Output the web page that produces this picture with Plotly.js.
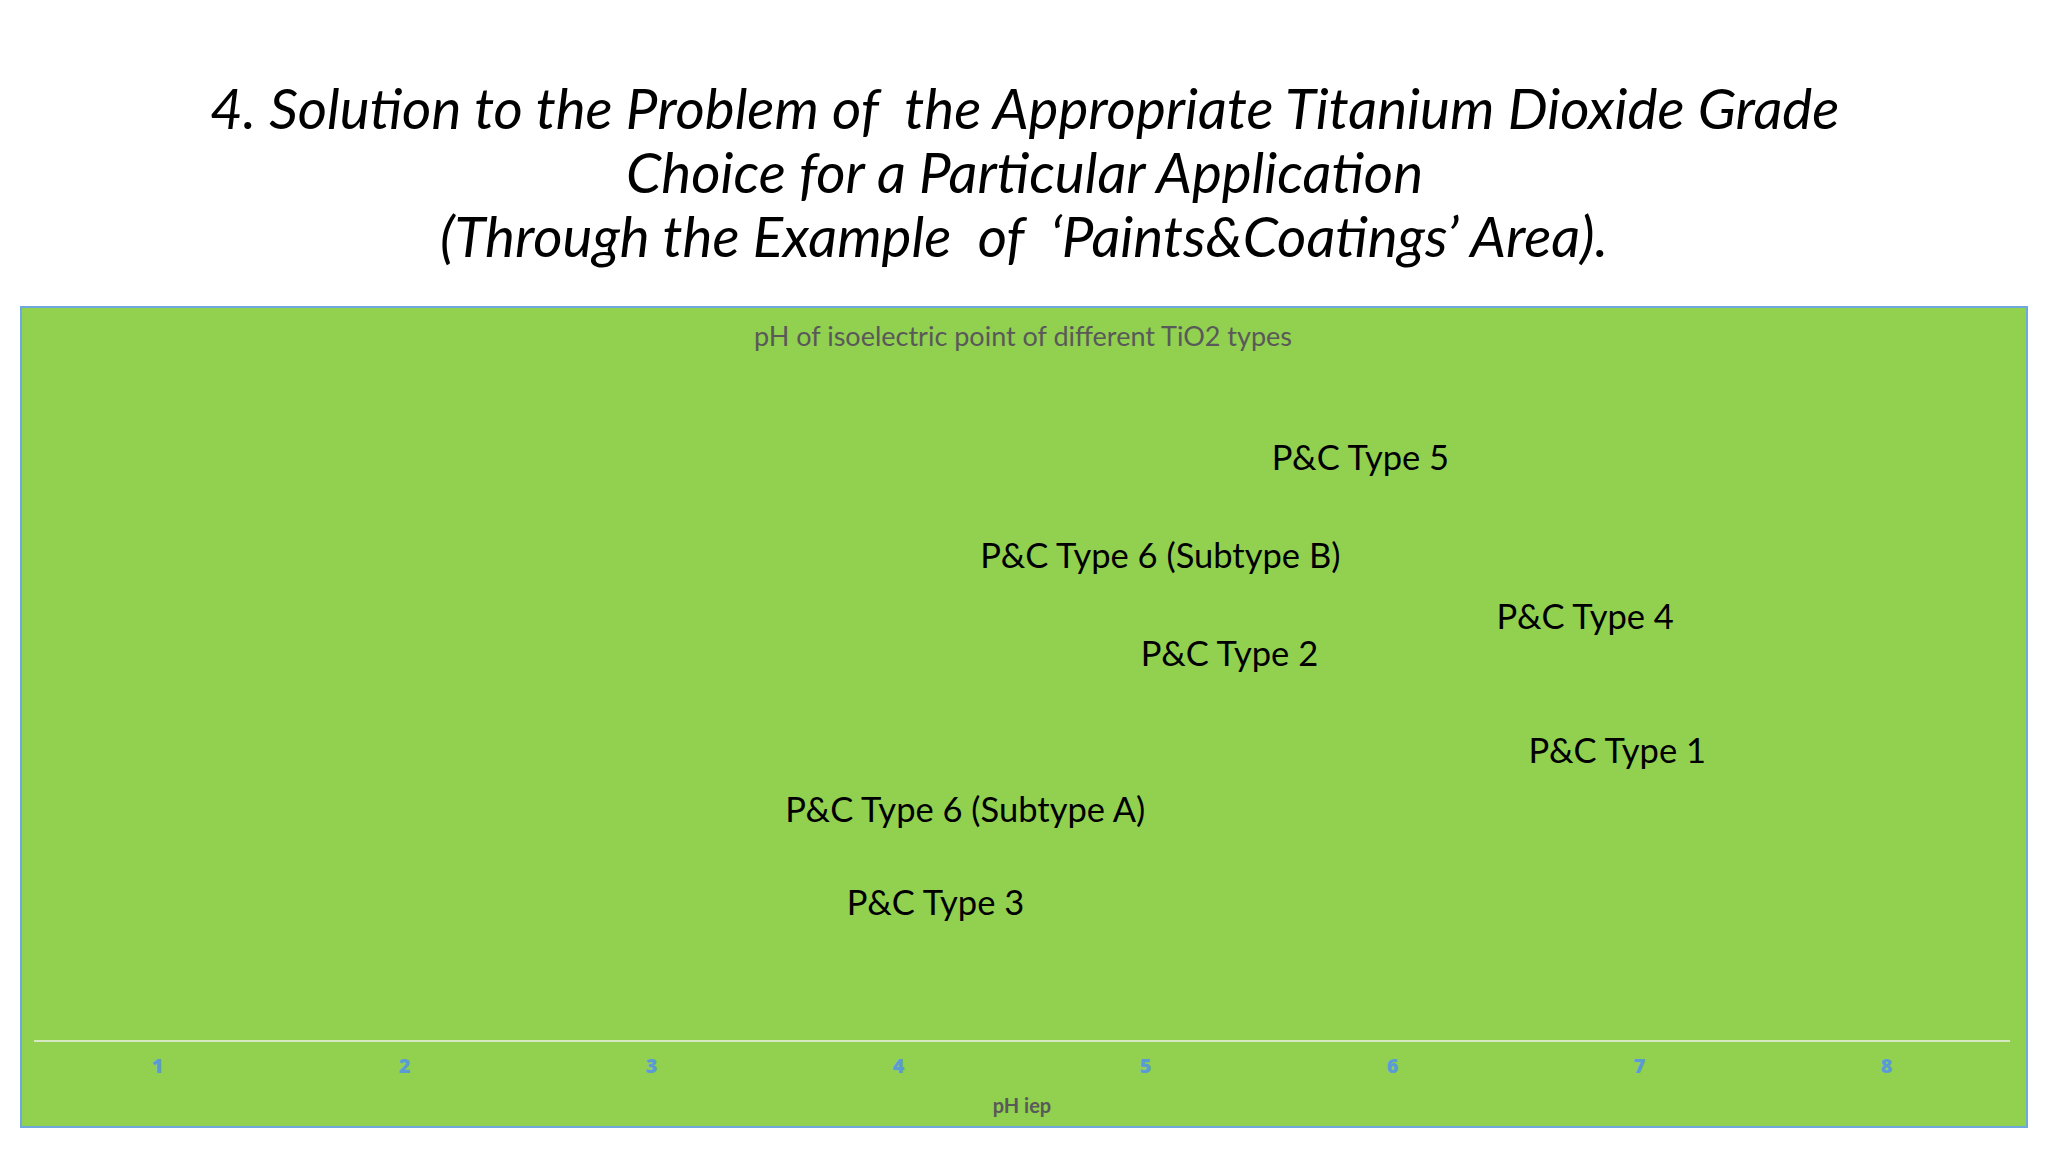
<!DOCTYPE html>
<html>
<head>
<meta charset="utf-8">
<script src="https://cdn.plot.ly/plotly-3.0.1.min.js"></script>
<style>html,body{margin:0;padding:0;background:#fff;}#chart{width:2048px;height:1152px;}</style>
</head>
<body>
<div id="chart"></div>
<script>
// Data: pH of isoelectric point (x) and label height (y) for each TiO2 type
const typeLabels = [
  "P&C Type 5",
  "P&C Type 6 (Subtype B)",
  "P&C Type 4",
  "P&C Type 2",
  "P&C Type 1",
  "P&C Type 6 (Subtype A)",
  "P&C Type 3"
];
const phIep = [5.87, 5.06, 6.78, 5.34, 6.91, 4.27, 4.15];
const yPos  = [6.06, 5.04, 4.40, 4.01, 2.99, 2.38, 1.40];
const xTicks = [1, 2, 3, 4, 5, 6, 7, 8];

const titleLines = [
  "4. Solution to the Problem of  the Appropriate Titanium Dioxide Grade",
  "Choice for a Particular Application",
  "(Through the Example  of  \u2018Paints&amp;Coatings\u2019 Area)."
];
const chartTitle = "pH of isoelectric point of different TiO2 types";
const xTitle = "pH iep";

const FONT = "Lato, 'Open Sans', sans-serif";

const trace = {
  type: "scatter",
  mode: "text",
  x: phIep,
  y: yPos,
  text: typeLabels,
  textposition: "middle center",
  textfont: {family: FONT, size: 34.5, color: "#000000"},
  hoverinfo: "skip",
  showlegend: false
};

const W = 2048, H = 1152;
const mL = 34, mR = 38, mT = 372, mB = 112;
const pw = W - mL - mR, ph = H - mT - mB;
function px(x) { return (x - mL) / pw; }
function py(y) { return (H - mB - y) / ph; }

const titleY = [107, 171, 235];
const annotations = titleLines.map((t, i) => ({
  xref: "paper", yref: "paper",
  x: px(1024), y: py(titleY[i]), xanchor: "center", yanchor: "middle",
  text: t, showarrow: false, align: "center",
  font: {family: FONT, size: 56.5, color: "#000000", style: "italic"}
}));
annotations.push({
  xref: "paper", yref: "paper",
  x: px(1023), y: py(336), xanchor: "center", yanchor: "middle",
  text: chartTitle, showarrow: false,
  font: {family: FONT, size: 27, color: "#595959"}
});

const layout = {
  width: W, height: H,
  margin: {l: mL, r: mR, t: mT, b: mB, pad: 0},
  paper_bgcolor: "#ffffff",
  plot_bgcolor: "rgba(0,0,0,0)",
  showlegend: false,
  xaxis: {
    range: [0.5, 8.5],
    tickvals: xTicks,
    ticktext: xTicks.map(String),
    showgrid: false,
    zeroline: false,
    showline: true,
    linecolor: "#D6E9C2",
    linewidth: 2,
    ticks: "",
    ticklen: 0,
    ticklabelstandoff: 7,
    tickfont: {family: "'Open Sans', Lato, sans-serif", size: 20, color: "#5B9BD5", weight: 800},
    title: {text: xTitle, font: {family: FONT, size: 20, color: "#595959", weight: "bold"}, standoff: 21},
    fixedrange: true
  },
  yaxis: {
    range: [0, 7],
    visible: false,
    showgrid: false,
    zeroline: false,
    fixedrange: true
  },
  shapes: [
    {
      type: "rect", xref: "paper", yref: "paper", layer: "below",
      x0: px(21), x1: px(2027), y0: py(1127), y1: py(307),
      fillcolor: "#92D050",
      line: {color: "#6FA8DC", width: 2}
    }
  ],
  annotations: annotations
};

Plotly.newPlot("chart", [trace], layout, {displayModeBar: false, staticPlot: true});
</script>
</body>
</html>
